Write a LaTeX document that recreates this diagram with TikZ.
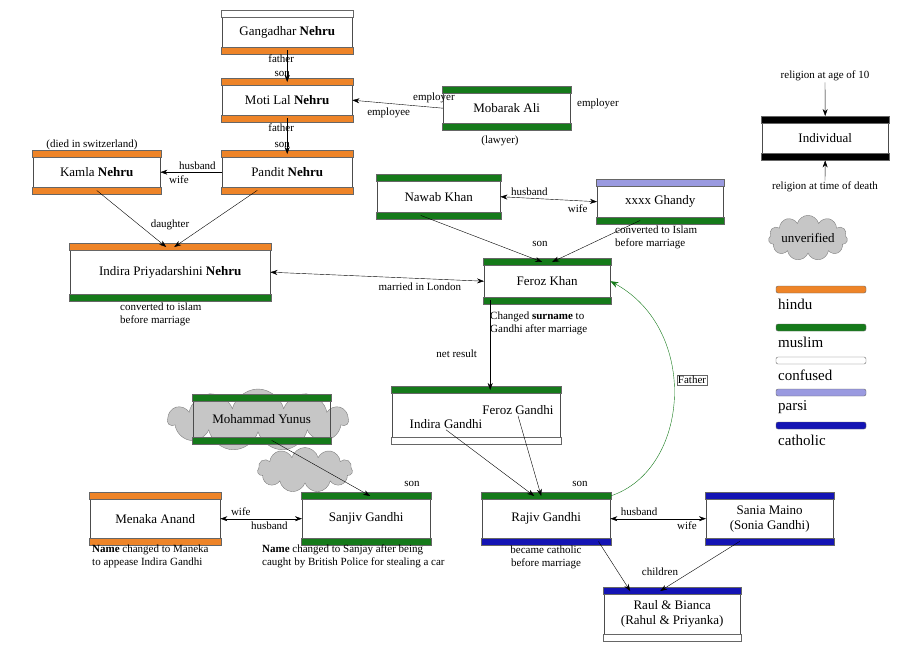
\documentclass[tikz,border=0pt]{standalone}
\usepackage{fontspec}
\setmainfont{Liberation Serif}
\usetikzlibrary{shapes.symbols,arrows.meta}
\definecolor{hin}{HTML}{EE8428}
\definecolor{mus}{HTML}{157A1A}
\definecolor{par}{HTML}{9A9AE0}
\definecolor{cat}{HTML}{1414B4}
\newcommand\pnode[8]{%
\node[draw=black!70,thin,anchor=north west,inner sep=0pt,minimum width={(#3-#2)*1pt},minimum height={(#5-#4)*1pt},font=\fontsize{13}{15}\selectfont,align=center] (#1) at (#2,#4) {#8};
\filldraw[draw=black!60,fill=#6] (#2-1,#4-4) rectangle (#3+1,#4+3);
\filldraw[draw=black!60,fill=#7] (#2-1,#5-3) rectangle (#3+1,#5+4);}
\tikzset{lab/.style={font=\fontsize{11}{13}\selectfont,inner sep=1pt},
 ar/.style={-{Stealth[length=7pt,width=5pt]},thin},
 da/.style={{Stealth[length=7pt,width=5pt]}-{Stealth[length=7pt,width=5pt]},thin},
 cl/.style={cloud,cloud puffs=11,draw=gray,fill=gray!45,aspect=2.5,inner sep=0pt},
 note/.style={font=\fontsize{11}{13}\selectfont,align=left,anchor=north west,inner sep=0pt},
 leg/.style={font=\fontsize{15}{17}\selectfont,anchor=west,inner sep=0pt}}
\begin{document}
\begin{tikzpicture}[x=1pt,y=-1pt]
\useasboundingbox[fill=white] (0,0) rectangle (906,657);
% clouds
\node[cl,minimum width=180pt,minimum height=62pt] (c1) at (258,420) {};
\node[cl,minimum width=95pt,minimum height=45pt] (c2) at (305,470) {};
\node[cl,minimum width=78pt,minimum height=36pt,font=\fontsize{13}{15}\selectfont] (c3) at (808,238) {unverified};
% boxes
\pnode{gang}{222}{352}{14}{50}{white}{hin}{Gangadhar \textbf{Nehru}}
\pnode{moti}{222}{352}{82}{118}{hin}{hin}{Moti Lal \textbf{Nehru}}
\pnode{moba}{443}{570}{90}{126}{mus}{mus}{Mobarak Ali}
\pnode{kaml}{33}{160}{154}{190}{hin}{hin}{Kamla \textbf{Nehru}}
\pnode{pand}{222}{352}{154}{190}{hin}{hin}{Pandit \textbf{Nehru}}
\pnode{nawa}{377}{500}{178}{215}{mus}{mus}{Nawab Khan}
\pnode{ghan}{597}{723}{183}{220}{par}{mus}{xxxx Ghandy}
\pnode{indi}{70}{270}{247}{297}{hin}{mus}{Indira Priyadarshini \textbf{Nehru}}
\pnode{fero}{484}{610}{262}{300}{mus}{mus}{Feroz Khan}
\pnode{net}{392}{560}{390}{440}{mus}{white}{}
\node[font=\fontsize{13}{15}\selectfont,inner sep=1pt] (ig) at (446,424) {Indira Gandhi};
\node[font=\fontsize{13}{15}\selectfont,inner sep=1pt] (fg) at (518,410) {Feroz Gandhi};
\pnode{yunu}{193}{330}{398}{440}{mus}{mus}{Mohammad Yunus}
\pnode{mena}{90}{220}{496}{541}{hin}{hin}{Menaka Anand}
\pnode{sanj}{302}{430}{496}{541}{mus}{mus}{Sanjiv Gandhi}
\pnode{raji}{482}{610}{496}{541}{mus}{cat}{Rajiv Gandhi}
\pnode{sani}{706}{833}{496}{541}{cat}{cat}{Sania Maino\\(Sonia Gandhi)}
\pnode{raul}{604}{740}{591}{637}{cat}{white}{Raul \& Bianca\\(Rahul \& Priyanka)}
\pnode{indv}{762}{888}{120}{156}{black}{black}{Individual}
% edges
\draw[ar] (gang.south) -- (moti.north) node[lab,pos=0.25,left=-8pt] {father} node[lab,pos=0.75,left=-4pt] {son};
\draw[ar] (moti.south) -- (pand.north) node[lab,pos=0.25,left=-8pt] {father} node[lab,pos=0.75,left=-4pt] {son};
\draw[ar] (moba.west) -- (moti.east) node[lab,pos=0.1,above=3pt] {employer} node[lab,pos=0.6,below=3pt] {employee};
\node[lab] (empl) at (598,104) {employer};
\node[lab] (lawy) at (500,141) {(lawyer)};
\node[lab] (died) at (92,145) {(died in switzerland)};
\draw[ar] (pand.west) -- (kaml.east) node[lab,pos=0.4,above=1pt] {husband} node[lab,pos=0.7,below=2pt] {wife};
\draw[ar] (kaml.south) -- ([xshift=-4pt]indi.north);
\draw[ar] ([xshift=-30pt]pand.south) -- ([xshift=4pt]indi.north);
\node[lab] (daug) at (170,225) {daughter};
\node[note] (n1) at (120,303) {converted to islam\\before marriage};
\draw[da] (indi.east) -- (fero.west) node[lab,pos=0.7,below=3pt] {married in London};
\draw[da] (nawa.east) -- (ghan.west) node[lab,pos=0.3,above=1pt] {husband} node[lab,pos=0.8,below=3pt] {wife};
\node[note] (n2) at (615,226) {converted to Islam\\before marriage};
\draw[ar] ([xshift=-18pt]nawa.south) -- ([xshift=-5pt]fero.north);
\draw[ar] ([xshift=-20pt]ghan.south) -- ([xshift=5pt]fero.north);
\node[lab] (son1) at (540,244) {son};
\node[note] (n3) at (490,312) {Changed \textbf{surname} to\\Gandhi after marriage};
\draw[ar] ([xshift=-57pt]fero.south) -- ([xshift=14pt]net.north) node[lab,pos=0.6,left=12pt] {net result};
\draw[ar] (ig.south) -- ([xshift=-12pt]raji.north);
\draw[ar] (fg.south) -- ([xshift=-5pt]raji.north);
\draw[ar] ([xshift=10pt]yunu.south) -- ([xshift=4pt]sanj.north);
\node[lab] (son2) at (412,484) {son};
\node[lab] (son3) at (580,484) {son};
\draw[da] (mena.east) -- (sanj.west) node[lab,pos=0.25,above=2pt] {wife} node[lab,pos=0.6,below=2pt] {husband};
\node[note] (n4) at (92,545) {\textbf{Name} changed to Maneka\\to appease Indira Gandhi};
\node[note] (n5) at (262,545) {\textbf{Name} changed to Sanjay after being\\caught by British Police for stealing a car};
\node[lab,align=center] (n6) at (546,557) {became catholic\\before marriage};
\draw[da] (raji.east) -- (sani.west) node[lab,pos=0.3,above=2pt] {husband} node[lab,pos=0.8,below=2pt] {wife};
\draw[ar] ([xshift=-12pt]raji.south east) -- ([xshift=-42pt]raul.north);
\draw[ar] ([xshift=-30pt]sani.south) -- ([xshift=-12pt]raul.north);
\node[lab] (chil) at (660,572) {children};
\draw[draw=mus,-{Stealth[length=8pt,width=6pt,fill=mus]}] (raji.north east) .. controls (690,470) and (700,330) .. (fero.east);
\node[lab,draw=black!60,fill=white] (fath) at (692,380) {Father};
% legend
\node[lab] (r10) at (825,76) {religion at age of 10};
\node[lab] (rde) at (825,187) {religion at time of death};
\draw[ar] (r10.south) -- ([yshift=4pt]indv.north);
\draw[ar] (rde.north) -- ([yshift=-4pt]indv.south);
\foreach \c/\t/\y in {hin/hindu/289,mus/muslim/327,white/confused/360,par/parsi/392,cat/catholic/425}{
 \filldraw[draw=black!60,fill=\c,rounded corners=2pt] (776,\y-3) rectangle (866,\y+4);
 \node[leg] (lg\t) at (778,\y+15) {\t};}
\end{tikzpicture}
\end{document}
